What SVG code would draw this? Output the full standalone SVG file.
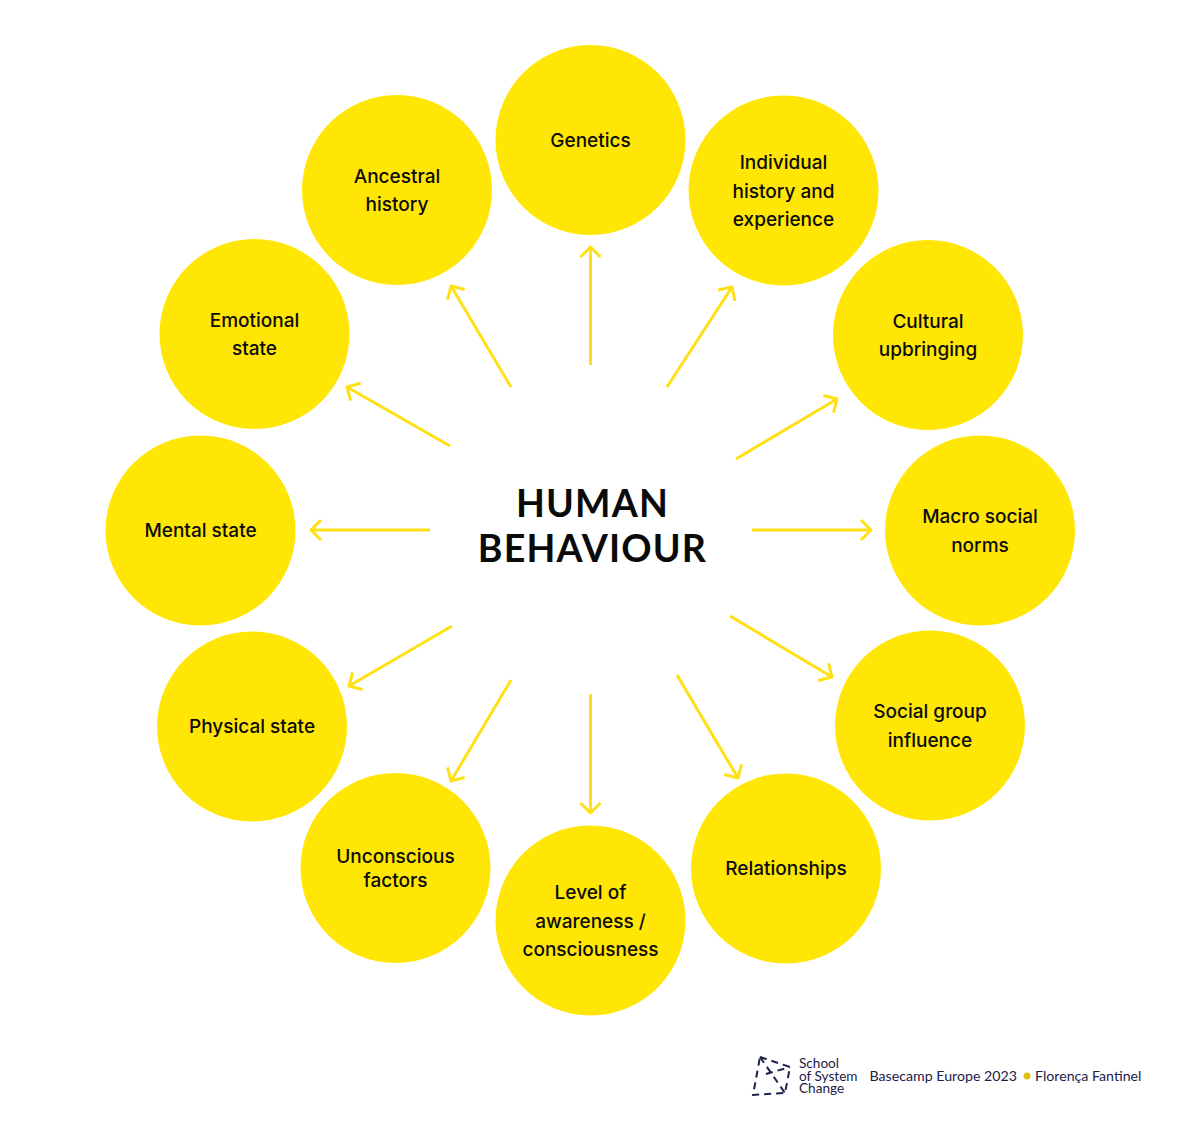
<svg xmlns="http://www.w3.org/2000/svg" width="1200" height="1145" viewBox="0 0 1200 1145">
<style>
.n{fill:#ffe605}
.t{font-family:Inter,"Liberation Sans",sans-serif;font-size:19px;font-weight:500;fill:#0c0c0c;text-anchor:middle}
.h{font-family:Lato,"Liberation Sans",sans-serif;font-size:37.5px;font-weight:700;fill:#0a0a0a;text-anchor:middle;letter-spacing:1.2px}
.a{fill:none;stroke:#ffe014;stroke-width:3;marker-end:url(#m)}
.f{font-family:Lato,"Liberation Sans",sans-serif;fill:#1a2248;font-size:14.2px}
.s{font-size:13.6px}
.l{fill:none;stroke:#1a2248;stroke-width:2;stroke-dasharray:7 5}
</style>
<defs><marker id="m" markerUnits="userSpaceOnUse" markerWidth="30" markerHeight="30" refX="20" refY="15" orient="auto" overflow="visible"><path d="M10 5L20 15L10 25" fill="none" stroke="#ffe014" stroke-width="3" stroke-linejoin="round"/></marker></defs>
<rect width="1200" height="1145" fill="#fff"/>
<g id="connectors">
<path class="a" d="M590.500 365V247"/>
<path class="a" d="M667 387L732 287"/>
<path class="a" d="M736 459L837 399"/>
<path class="a" d="M752 530H871"/>
<path class="a" d="M730 616L832 677"/>
<path class="a" d="M677 675L738 778"/>
<path class="a" d="M590.500 694V813"/>
<path class="a" d="M511 680L451 781"/>
<path class="a" d="M452 626L349 686"/>
<path class="a" d="M430 530H311"/>
<path class="a" d="M450 446L347 387"/>
<path class="a" d="M511 387L451 286"/>
</g>
<g id="center"><text class="h" x="592.500" y="517">HUMAN</text><text class="h" x="592.500" y="562">BEHAVIOUR</text></g>
<g id="genetics"><circle class="n" cx="590.500" cy="140" r="95"/><text class="t" x="590.500" y="147">Genetics</text></g>
<g id="individual"><circle class="n" cx="783.500" cy="190.500" r="95"/><text class="t" x="783.500" y="169">Individual</text><text class="t" x="783.500" y="197.500">history and</text><text class="t" x="783.500" y="226">experience</text></g>
<g id="cultural"><circle class="n" cx="928" cy="335" r="95"/><text class="t" x="928" y="327.500">Cultural</text><text class="t" x="928" y="356">upbringing</text></g>
<g id="macro"><circle class="n" cx="980" cy="530.500" r="95"/><text class="t" x="980" y="523">Macro social</text><text class="t" x="980" y="551.500">norms</text></g>
<g id="social"><circle class="n" cx="930" cy="725.500" r="95"/><text class="t" x="930" y="718">Social group</text><text class="t" x="930" y="746.500">influence</text></g>
<g id="relationships"><circle class="n" cx="786" cy="868.500" r="95"/><text class="t" x="786" y="875">Relationships</text></g>
<g id="awareness"><circle class="n" cx="590.500" cy="920.500" r="95"/><text class="t" x="590.500" y="898.500">Level of</text><text class="t" x="590.500" y="927.500">awareness /</text><text class="t" x="590.500" y="956">consciousness</text></g>
<g id="unconscious"><circle class="n" cx="395.500" cy="868" r="95"/><text class="t" x="395.500" y="863">Unconscious</text><text class="t" x="395.500" y="887">factors</text></g>
<g id="physical"><circle class="n" cx="252" cy="726.500" r="95"/><text class="t" x="252" y="733">Physical state</text></g>
<g id="mental"><circle class="n" cx="200.500" cy="530.500" r="95"/><text class="t" x="200.500" y="537">Mental state</text></g>
<g id="emotional"><circle class="n" cx="254.500" cy="334" r="95"/><text class="t" x="254.500" y="326.500">Emotional</text><text class="t" x="254.500" y="355">state</text></g>
<g id="ancestral"><circle class="n" cx="397" cy="190" r="95"/><text class="t" x="397" y="182.500">Ancestral</text><text class="t" x="397" y="211">history</text></g>
<g id="footer">
<path class="l" d="M760 1057L790 1067L785 1093L753 1095Z"/>
<path class="l" d="M760 1057L785 1093M766 1074L790 1067"/>
<text class="f s" x="799" y="1068">School</text><text class="f s" x="799" y="1080.500">of System</text><text class="f s" x="799" y="1093">Change</text>
<text class="f" x="869.500" y="1081">Basecamp Europe 2023</text>
<circle cx="1027" cy="1076" r="3.500" fill="#dfc40f"/>
<text class="f" x="1035" y="1081">Florença Fantinel</text>
</g>
</svg>
